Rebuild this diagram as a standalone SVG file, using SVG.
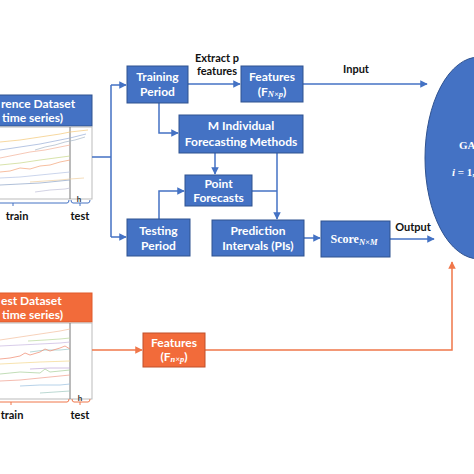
<svg xmlns="http://www.w3.org/2000/svg" width="474" height="474" viewBox="0 0 474 474">
<style>
.box{fill:#4472C4;stroke:#2F528F;stroke-width:1}
.obox{fill:#F26B3A;stroke:#C0502A;stroke-width:1}
.t{font-family:Lato,"Open Sans",sans-serif;font-size:12px;fill:#fff;font-weight:700;text-anchor:middle}
.h{font-family:Lato,"Open Sans",sans-serif;font-size:12px;fill:#fff;font-weight:700}
.k{font-family:Lato,"Open Sans",sans-serif;font-size:11px;fill:#111;font-weight:700;text-anchor:middle}
.m{font-family:"Liberation Serif","DejaVu Serif",serif;font-weight:bold;font-style:italic;font-size:8.5px}
.c{fill:none;stroke:#4472C4;stroke-width:1.5}
.oc{fill:none;stroke:#F0774A;stroke-width:1.5}
.chart{fill:#fff;stroke:#bbb;stroke-width:1}
.s{fill:none;stroke-width:0.9;opacity:0.8}
</style>
<defs>
<marker id="a" viewBox="0 0 10 10" refX="9" refY="5" markerWidth="5" markerHeight="5" orient="auto"><path d="M0,0L10,5L0,10z" fill="#4472C4"/></marker>
<marker id="ao" viewBox="0 0 10 10" refX="9" refY="5" markerWidth="5" markerHeight="5" orient="auto"><path d="M0,0L10,5L0,10z" fill="#F0774A"/></marker>
</defs>
<rect width="474" height="474" fill="#fff"/>

<g id="reference-dataset">
<rect x="-5" y="95" width="97" height="31" fill="#4472C4" stroke="#2F528F"/>
<text class="h" x="1" y="108">rence Dataset</text>
<text class="h" x="2" y="122">time series)</text>
<rect class="chart" x="-5" y="127" width="97" height="72"/>
<line x1="70" y1="127" x2="70" y2="199" stroke="#777" stroke-width="1"/>
<polyline class="s" stroke="#F4C97A" points="0,142 20,140 40,137 60,134 70,132 88,130"/>
<polyline class="s" stroke="#9BB0D8" points="0,150 20,147 40,144 60,140 70,138 86,134"/>
<polyline class="s" stroke="#A9B8C8" points="35,150 45,147 55,145 65,142 75,140 85,137"/>
<polyline class="s" stroke="#F2B29A" points="0,158 15,155 30,152 45,150 60,147 70,145"/>
<polyline class="s" stroke="#C9D88A" points="0,165 20,163 40,160 55,158 70,156"/>
<polyline class="s" stroke="#F4A57A" points="0,172 10,171 20,168 30,169 40,166 50,165 60,162 70,160"/>
<polyline class="s" stroke="#B7C4E4" points="0,178 20,177 40,175 60,173 70,172"/>
<polyline class="s" stroke="#F0D0A0" points="30,182 45,181 60,180 70,179 84,178"/>
<polyline class="s" stroke="#8FA6C8" points="0,185 20,184 40,183 60,181 70,180"/>
<polyline class="s" stroke="#C0C0D8" points="35,192 50,190 65,189 70,188"/>
<path d="M0,203 H67 Q69,203 69,200 M13,203 v3 M71,200 Q71,203 73,203 H88 Q90,203 90,200 M80,203 v3" fill="none" stroke="#4472C4" stroke-width="1"/>
<text x="79" y="202" style="font-family:Lato,sans-serif;font-size:8px;font-weight:700;fill:#333" text-anchor="middle">h</text>
<text class="k" x="17" y="220">train</text>
<text class="k" x="80" y="220">test</text>
</g>

<g id="test-dataset">
<rect x="-5" y="293" width="97" height="29" fill="#F26B3A" stroke="#E05A2A"/>
<text class="h" x="1" y="305" font-weight="400">est Dataset</text>
<text class="h" x="2" y="319" font-weight="400">time series)</text>
<rect class="chart" x="-5" y="323" width="97" height="76"/>
<line x1="70" y1="323" x2="70" y2="399" stroke="#777" stroke-width="1"/>
<polyline class="s" stroke="#F4C0A0" points="0,340 20,337 40,334 60,331 70,329"/>
<polyline class="s" stroke="#B9D89A" points="28,341 45,340 60,339 70,338"/>
<polyline class="s" stroke="#C8B8E0" points="0,346 20,345 40,344 60,343 70,342"/>
<polyline class="s" stroke="#9BC8C8" points="30,352 45,350 60,350 70,349"/>
<polyline class="s" stroke="#F08A70" points="0,359 10,358 20,356 25,353 30,355 40,352 45,349 50,351 60,348 65,346 70,349"/>
<polyline class="s" stroke="#F4D890" points="0,364 20,363 40,362 70,361"/>
<polyline class="s" stroke="#C0A8D8" points="30,369 50,368 70,368"/>
<polyline class="s" stroke="#A8D09A" points="0,374 20,372 40,373 45,369 50,372 60,371 70,370"/>
<polyline class="s" stroke="#F0A090" points="0,381 20,380 40,378 50,377 60,376 70,375"/>
<polyline class="s" stroke="#9BC0E0" points="20,386 40,385 60,385 70,384"/>
<polyline class="s" stroke="#A0C8C0" points="40,393 55,392 70,391"/>
<path d="M0,402 H67 Q69,402 69,399 M11,402 v3 M72,399 Q72,402 74,402 H88 Q90,402 90,399 M80,402 v3" fill="none" stroke="#F0774A" stroke-width="1"/>
<text x="80" y="401" style="font-family:Lato,sans-serif;font-size:8px;font-weight:700;fill:#333" text-anchor="middle">h</text>
<text class="k" x="12" y="419">train</text>
<text class="k" x="80" y="419">test</text>
</g>

<g id="connectors">
<path class="c" d="M92,157 H111 M111,85 V237"/>
<path class="c" d="M111,85 H126" marker-end="url(#a)"/>
<path class="c" d="M111,237 H126" marker-end="url(#a)"/>
<path class="c" d="M188,84 H240" marker-end="url(#a)"/>
<path class="c" d="M159,103 V133 H178" marker-end="url(#a)"/>
<path class="c" d="M303,84 H427" marker-end="url(#a)"/>
<path class="c" d="M215,153 V174" marker-end="url(#a)"/>
<path class="c" d="M277,153 V219" marker-end="url(#a)"/>
<path class="c" d="M252,191 H277"/>
<path class="c" d="M159,219 V191 H184" marker-end="url(#a)"/>
<path class="c" d="M304,238 H320" marker-end="url(#a)"/>
<path class="c" d="M390,239 H434" marker-end="url(#a)"/>
<path class="oc" d="M92,350 H142" marker-end="url(#ao)"/>
<path class="oc" d="M205,350 H452 V262" marker-end="url(#ao)"/>
<text class="k" x="217" y="62">Extract p</text>
<text class="k" x="217" y="75">features</text>
<text class="k" x="356" y="73">Input</text>
<text class="k" x="413" y="231">Output</text>
</g>

<g id="training-period">
<rect class="box" x="127" y="66" width="61" height="37"/>
<text class="t" x="157.5" y="81">Training</text>
<text class="t" x="157.5" y="96">Period</text>
</g>

<g id="features">
<rect class="box" x="241" y="66" width="62" height="36"/>
<text class="t" x="272" y="81">Features</text>
<text class="t" x="272" y="96">(F<tspan class="m" dy="1" fill="#fff">N×p</tspan><tspan dy="-1">)</tspan></text>
</g>

<g id="m-methods">
<rect class="box" x="179" y="115" width="124" height="38"/>
<text class="t" x="241" y="130">M Individual</text>
<text class="t" x="241" y="146">Forecasting Methods</text>
</g>

<g id="point-forecasts">
<rect class="box" x="185" y="175" width="67" height="31"/>
<text class="t" x="218.5" y="188">Point</text>
<text class="t" x="218.5" y="202">Forecasts</text>
</g>

<g id="testing-period">
<rect class="box" x="127" y="219" width="63" height="37"/>
<text class="t" x="158.5" y="235">Testing</text>
<text class="t" x="158.5" y="250">Period</text>
</g>

<g id="prediction-intervals">
<rect class="box" x="212" y="220" width="92" height="36"/>
<text class="t" x="258" y="235">Prediction</text>
<text class="t" x="258" y="250">Intervals  (PIs)</text>
</g>

<g id="score">
<rect class="box" x="321" y="221" width="69" height="36"/>
<text x="354" y="243" text-anchor="middle" style="font-family:'Liberation Serif','DejaVu Serif',serif;font-weight:bold;font-size:12px;fill:#fff">Score<tspan class="m" dy="2" fill="#fff">N×M</tspan></text>
</g>

<g id="features-test">
<rect class="obox" x="143" y="333" width="62" height="34"/>
<text class="t" x="174" y="347">Features</text>
<text class="t" x="174" y="361">(F<tspan class="m" dy="1" fill="#fff">n×p</tspan><tspan dy="-1">)</tspan></text>
</g>

<g id="ga">
<ellipse cx="479" cy="158" rx="54" ry="101" fill="#4472C4" stroke="#2F528F"/>
<text x="459" y="149" style="font-family:'Liberation Serif',serif;font-weight:bold;font-size:11px;fill:#fff">GA</text>
<text x="452" y="176" style="font-family:'Liberation Serif',serif;font-weight:bold;font-size:11px;fill:#fff"><tspan font-style="italic">i</tspan> = 1,</text>
</g>
</svg>
